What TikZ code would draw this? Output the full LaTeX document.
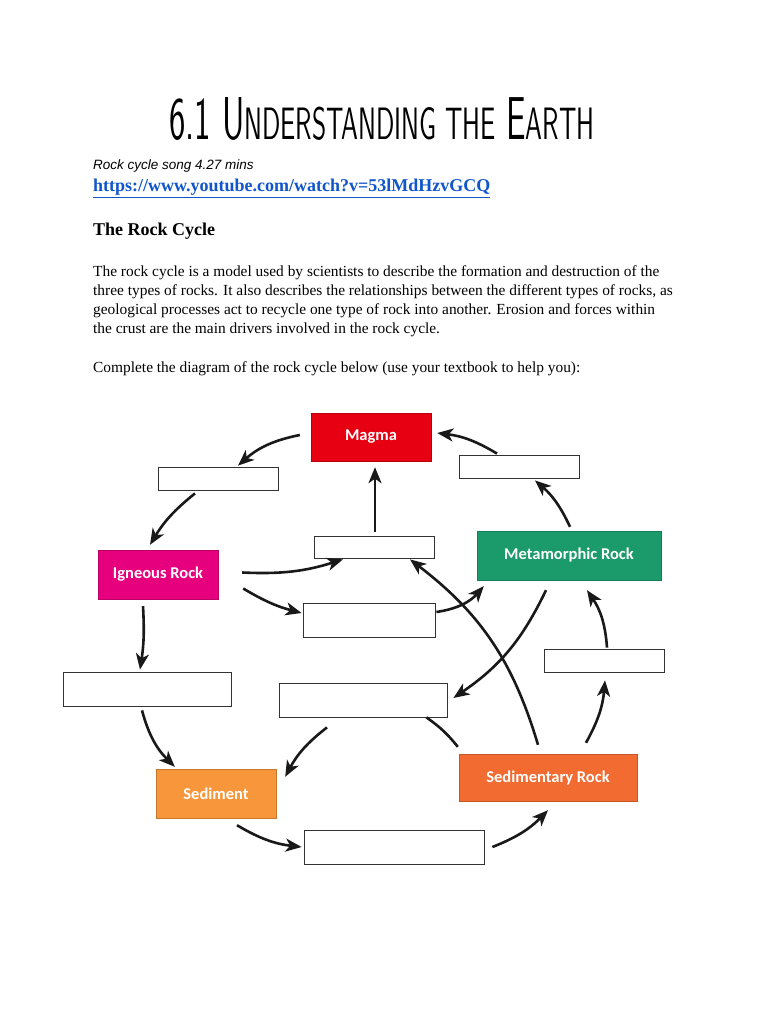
\documentclass[tikz,border=0pt]{standalone}
\usepackage{fontspec}
\setmainfont{Liberation Serif}
\newfontfamily\arialfont{Liberation Sans}
\newfontfamily\boxfont{Carlito}
\usepackage{graphicx}
\usepackage{xcolor}
\usetikzlibrary{arrows.meta}

\definecolor{magmared}{RGB}{230,0,18}
\definecolor{igneouspink}{RGB}{230,0,126}
\definecolor{metagreen}{RGB}{27,154,108}
\definecolor{sedorange}{RGB}{247,150,58}
\definecolor{sedrockorange}{RGB}{242,107,48}
\definecolor{linkblue}{RGB}{17,85,204}

\begin{document}
\begin{tikzpicture}[x=1pt,y=-1pt,
    rock/.style={draw=#1!80!black, fill=#1, text=white, inner sep=0pt,
      font=\boxfont\bfseries\fontsize{16.5}{19}\selectfont},
    blank/.style={draw=black!80, fill=white, inner sep=0pt, line width=0.8pt},
    arr/.style={line width=2.6pt, black!90, -{Stealth[length=16pt,width=13pt,inset=4.5pt]}}]

    % page
    \fill[white] (0,0) rectangle (768,1024);
    \useasboundingbox (0,0) rectangle (768,1024);

    % heading and text
    \node (title) at (382,119) {\resizebox{425pt}{42pt}{\sffamily\fontsize{20}{24}\selectfont
        6.1 U{\fontsize{15}{18}\selectfont NDERSTANDING THE} E{\fontsize{15}{18}\selectfont ARTH}}};
    \node[anchor=base west, inner sep=0pt, font=\arialfont\itshape\fontsize{13.5}{15}\selectfont] (song) at (93,170) {Rock cycle song 4.27 mins};
    \node[anchor=base west, inner sep=0pt, text=linkblue, font=\bfseries\fontsize{18}{20}\selectfont] (link) at (93,192)
        {\underline{https://www.youtube.com/watch?v=53lMdHzvGCQ}};
    \node[anchor=base west, inner sep=0pt, font=\bfseries\fontsize{18}{21}\selectfont] (heading) at (93,236) {The Rock Cycle};
    \node[anchor=north west, inner sep=0pt, align=left, font=\fontsize{15.4}{19}\selectfont] (para) at (93,265)
        {The rock cycle is a model used by scientists to describe the formation and destruction of the\\
         three types of rocks. It also describes the relationships between the different types of rocks, as\\
         geological processes act to recycle one type of rock into another. Erosion and forces within\\
         the crust are the main drivers involved in the rock cycle.};
    \node[anchor=base west, inner sep=0pt, font=\fontsize{15.4}{19}\selectfont] (task) at (93,372)
        {Complete the diagram of the rock cycle below (use your textbook to help you):};

    % rock boxes
    \node[rock=magmared, minimum width=120pt, minimum height=48pt] (magma) at (371,437) {Magma};
    \node[rock=igneouspink, minimum width=120pt, minimum height=49pt] (igneous) at (158,574.5) {Igneous Rock};
    \node[rock=metagreen, minimum width=184pt, minimum height=49pt] (meta) at (569,555.5) {Metamorphic Rock};
    \node[rock=sedorange, minimum width=120pt, minimum height=49pt] (sediment) at (216,793.5) {Sediment};
    \node[rock=sedrockorange, minimum width=178pt, minimum height=47pt] (sedrock) at (548,777.5) {Sedimentary Rock};

    % empty boxes
    \node[blank, minimum width=120pt, minimum height=23pt] (cooling) at (218,478.5) {};
    \node[blank, minimum width=120pt, minimum height=23pt] (melting) at (519,466.5) {};
    \node[blank, minimum width=120pt, minimum height=22pt] (remelt) at (374,547) {};
    \node[blank, minimum width=132pt, minimum height=34pt] (heatone) at (369,620) {};
    \node[blank, minimum width=120pt, minimum height=23pt] (heattwo) at (604,660.5) {};
    \node[blank, minimum width=168pt, minimum height=34pt] (weatherone) at (147,689) {};
    \node[blank, minimum width=168pt, minimum height=34pt] (weathertwo) at (363,700) {};
    \node[blank, minimum width=180pt, minimum height=34pt] (compact) at (394,847) {};

    % outer cycle
    \draw[arr] ([xshift=-11pt,yshift=2pt]magma.west) to[bend right=15] ([xshift=20pt,yshift=1pt]cooling.north);
    \draw[arr] ([xshift=-23pt,yshift=-3pt]cooling.south) to[bend right=10] ([xshift=-8pt,yshift=5pt]igneous.north);
    \draw[arr] ([xshift=-15pt,yshift=-7pt]igneous.south) to[bend left=6] ([xshift=-7pt,yshift=2pt]weatherone.north);
    \draw[arr] ([xshift=-5pt,yshift=-4pt]weatherone.south) to[bend right=15] ([xshift=19pt,yshift=2pt]sediment.north west);
    \draw[arr] ([xshift=21pt,yshift=-7pt]sediment.south) to[bend right=12] ([xshift=-2pt]compact.west);
    \draw[arr] ([xshift=8pt]compact.east) to[bend right=12] ([yshift=-9pt]sedrock.south);
    \draw[arr] ([xshift=38pt,yshift=11pt]sedrock.north) to[bend right=12] ([xshift=1pt,yshift=-8pt]heattwo.south);
    \draw[arr] ([xshift=3pt,yshift=1pt]heattwo.north) to[bend right=15] ([xshift=18pt,yshift=-10pt]meta.south);
    \draw[arr] ([xshift=1pt,yshift=4pt]meta.north) to[bend right=12] ([xshift=16pt,yshift=-2pt]melting.south);
    \draw[arr] ([xshift=-22pt,yshift=1pt]melting.north) to[bend right=12] ([xshift=6pt,yshift=4pt]magma.east);

    % inner paths
    \draw[arr] ([xshift=1pt,yshift=4pt]remelt.north) -- ([xshift=4pt,yshift=-6pt]magma.south);
    \draw[arr] ([xshift=24pt,yshift=2pt]igneous.east) to[bend right=10] ([xshift=-31pt,yshift=-1pt]remelt.south);
    \draw[arr] ([xshift=25pt,yshift=-14pt]igneous.east) to[bend right=8] ([xshift=-1pt,yshift=7pt]heatone.west);
    \draw[arr] ([xshift=1pt,yshift=8pt]heatone.east) to[bend right=20] ([xshift=7pt,yshift=-6pt]meta.south west);
    \draw[arr] ([xshift=-23pt,yshift=-10pt]meta.south) to[bend left=15] ([xshift=6pt,yshift=2pt]weathertwo.east);
    \draw[arr] ([xshift=-10pt,yshift=9pt]sedrock.north) to[bend right=18] ([xshift=36pt,yshift=-1pt]remelt.south);
    \draw[line width=2.6pt, black!90] ([xshift=-21pt]weathertwo.south east) to[bend left=8] ([xshift=-1pt,yshift=7pt]sedrock.north west);
    \draw[arr] ([xshift=-36pt,yshift=-10pt]weathertwo.south) to[bend right=12] ([xshift=9pt,yshift=-8pt]sediment.north east);
\end{tikzpicture}
\end{document}
